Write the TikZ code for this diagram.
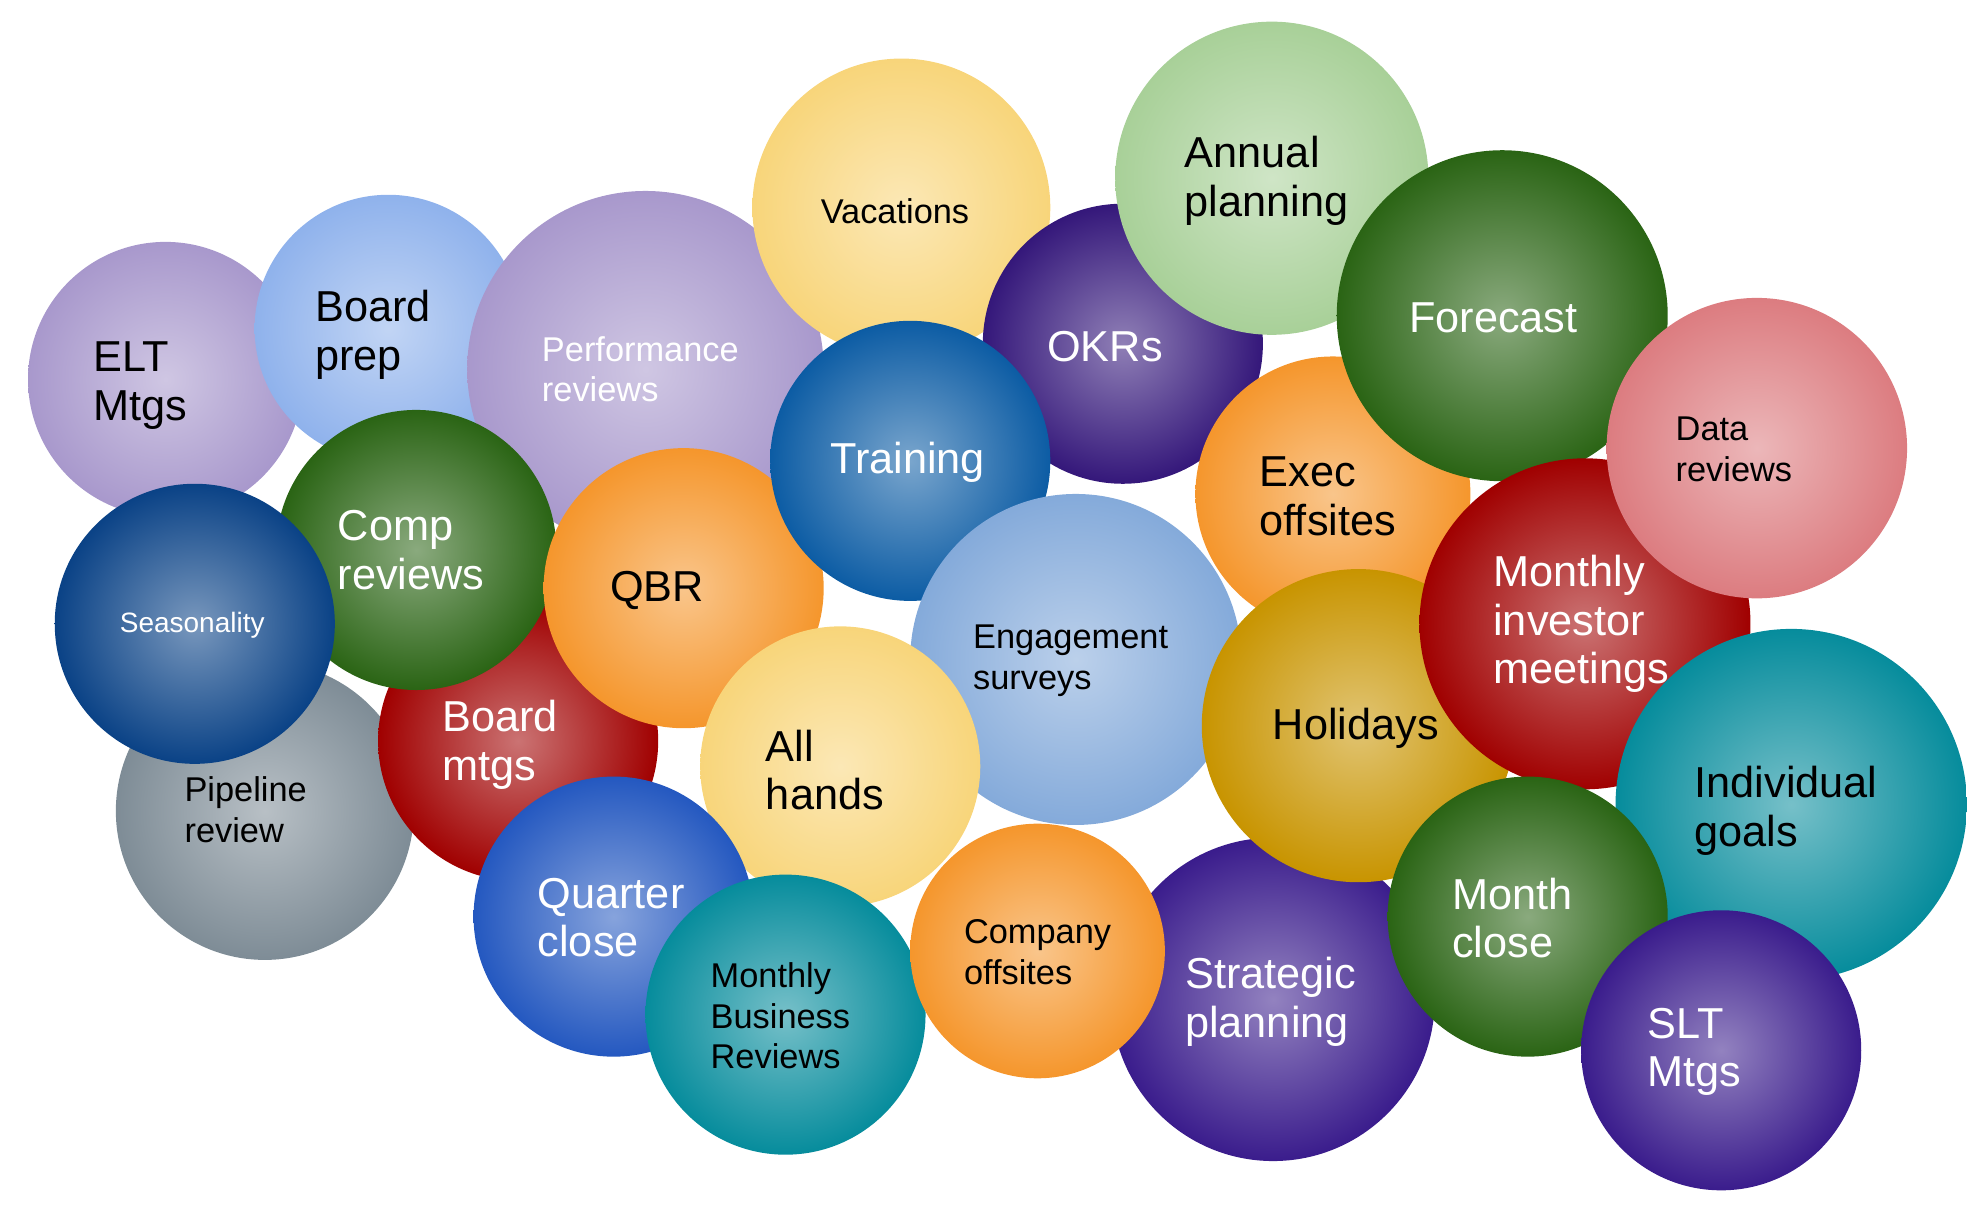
\documentclass[tikz,border=0pt]{standalone}
\usepackage{fontspec}
\setmainfont{Liberation Sans}
\begin{document}
\begin{tikzpicture}[x=0.5pt,y=-0.5pt,
  lbl/.style={align=left,font=\fontsize{17}{19}\selectfont,inner sep=0pt},
  mid/.style={align=left,font=\fontsize{13.5}{16}\selectfont,inner sep=0pt},
  sml/.style={align=left,font=\fontsize{11}{14}\selectfont,inner sep=0pt}]
\definecolor{lav}{HTML}{A898CC}
\definecolor{lblue}{HTML}{8FB2EC}
\definecolor{yel}{HTML}{F8D57A}
\definecolor{lgreen}{HTML}{A8D098}
\definecolor{dpurp}{HTML}{34177A}
\definecolor{grn}{HTML}{2A6414}
\definecolor{pink}{HTML}{DC7C80}
\definecolor{blu}{HTML}{0C5CA4}
\definecolor{org}{HTML}{F5962C}
\definecolor{dblu}{HTML}{0A4286}
\definecolor{sky}{HTML}{84AADA}
\definecolor{dred}{HTML}{A00000}
\definecolor{gold}{HTML}{C89400}
\definecolor{grey}{HTML}{7E8C96}
\definecolor{teal}{HTML}{068C9C}
\definecolor{qblue}{HTML}{2458C0}
\definecolor{purp}{HTML}{3A1C8C}
\newcommand{\bub}[5]{\path[shading=radial,inner color=#4!55!white,outer color=#4] (#1,#2) coordinate (#5) circle (#3);}
\useasboundingbox (5,0) rectangle (1565,953);
\bub{135}{298}{108}{lav}{c1}
\node[lbl] at (115,303) {ELT\\Mtgs};
\bub{310}{258}{105}{lblue}{c2}
\node[lbl] at (298,263) {Board\\prep};
\bub{512}{290}{140}{lav}{c3}
\node[mid,text=white] at (508,290) {Performance\\reviews};
\bub{213}{637}{117}{grey}{c18}
\node[mid] at (198,636) {Pipeline\\review};
\bub{412}{582}{110}{dred}{c17}
\node[lbl,text=white] at (398,585) {Board\\mtgs};
\bub{332}{432}{110}{grn}{c11}
\node[lbl,text=white] at (328,432) {Comp\\reviews};
\bub{158}{490}{110}{dblu}{c12}
\node[sml,text=white] at (156,491) {Seasonality};
\bub{542}{462}{110}{org}{c13}
\node[lbl] at (521,464) {QBR};
\bub{713}{163}{117}{yel}{c4}
\node[mid] at (708,166) {Vacations};
\bub{887}{270}{110}{dpurp}{c6}
\node[lbl,text=white] at (873,272) {OKRs};
\bub{1004}{140}{123}{lgreen}{c5}
\node[lbl] at (1000,142) {Annual\\planning};
\bub{720}{362}{110}{blu}{c9}
\node[lbl,text=white] at (718,363) {Training};
\bub{850}{518}{130}{sky}{c14}
\node[mid] at (846,519) {Engagement\\surveys};
\bub{665}{602}{110}{yel}{c19}
\node[lbl] at (653,605) {All\\hands};
\bub{487}{720}{110}{qblue}{c21}
\node[lbl,text=white] at (485,721) {Quarter\\close};
\bub{622}{797}{110}{teal}{c22}
\node[mid] at (618,798) {Monthly\\Business\\Reviews};
\bub{1005}{785}{127}{purp}{c24}
\node[lbl,text=white] at (1003,787) {Strategic\\planning};
\bub{820}{747}{100}{org}{c23}
\node[mid] at (820,748) {Company\\offsites};
\bub{1052}{388}{108}{org}{c10}
\node[lbl] at (1048,390) {Exec\\offsites};
\bub{1185}{248}{130}{grn}{c7}
\node[lbl,text=white] at (1178,250) {Forecast};
\bub{1072}{570}{123}{gold}{c16}
\bub{1250}{490}{130}{dred}{c15}
\node[lbl,text=white] at (1247,490) {Monthly\\investor\\meetings};
\node[lbl] at (1070,572) {Holidays};
\bub{1385}{352}{118}{pink}{c8}
\node[mid] at (1367,353) {Data\\reviews};
\bub{1412}{632}{138}{teal}{c20}
\node[lbl] at (1408,637) {Individual\\goals};
\bub{1205}{720}{110}{grn}{c25}
\node[lbl,text=white] at (1193,721) {Month\\close};
\bub{1357}{825}{110}{purp}{c26}
\node[lbl,text=white] at (1336,826) {SLT\\Mtgs};
\end{tikzpicture}
\end{document}
